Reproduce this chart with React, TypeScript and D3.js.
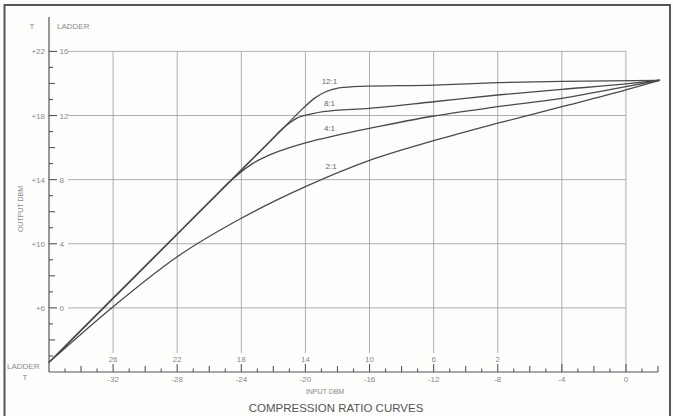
import React from "react";
import * as d3 from "d3";

// input dBm, output dBm
const ratio12: [number, number][] = [[-36, 2.6], [-32, 6.6], [-28, 10.6], [-24, 14.6], [-21, 17.6], [-20.2, 18.4], [-19.4, 19.1], [-18.8, 19.45], [-17.9, 19.72], [-16.6, 19.82], [-12, 19.9], [-8, 20.05], [-4, 20.13], [2.1, 20.2]];
const ratio8: [number, number][] = [[-36, 2.6], [-32, 6.6], [-28, 10.6], [-24, 14.6], [-22.2, 16.4], [-21.4, 17.2], [-20.5, 17.85], [-19.6, 18.1], [-18.9, 18.24], [-16, 18.45], [-12, 18.86], [-8, 19.28], [-4, 19.63], [0, 19.97], [2.1, 20.2]];
const ratio4: [number, number][] = [[-36, 2.6], [-32, 6.6], [-28, 10.6], [-25.6, 13.0], [-24.8, 13.8], [-23.3, 15.0], [-22, 15.64], [-20, 16.3], [-18, 16.78], [-16, 17.2], [-12, 17.97], [-8, 18.55], [-4, 19.07], [0, 19.8], [2.1, 20.2]];
const ratio2: [number, number][] = [[-36, 2.6], [-32, 6.07], [-28, 9.19], [-24, 11.59], [-20, 13.56], [-16, 15.2], [-12, 16.43], [-8, 17.52], [-4, 18.55], [0, 19.6], [2.1, 20.2]];

const seriesNames = ["12:1", "8:1", "4:1", "2:1"];
const seriesData = [ratio12, ratio8, ratio4, ratio2];
const seriesLabelAt: [number, number][] = [[-18.5, 20.17], [-18.5, 18.76], [-18.5, 17.24], [-18.4, 14.85]];

const yMajor = [6, 10, 14, 18, 22];
const yTLabels = ["+6", "+10", "+14", "+18", "+22"];
const yLadderLabels = ["0", "4", "8", "12", "16"];
const xMajor = [-32, -28, -24, -20, -16, -12, -8, -4, 0];
const xTLabels = ["-32", "-28", "-24", "-20", "-16", "-12", "-8", "-4", "0"];
const xLadderLabels = ["26", "22", "18", "14", "10", "6", "2", "", ""];

export default function App() {
  const x = d3.scaleLinear().domain([-36, 2]).range([49, 658]);
  const y = d3.scaleLinear().domain([2, 22]).range([372, 51.4]);
  const line = d3.line<[number, number]>().x(d => x(d[0])).y(d => y(d[1])).curve(d3.curveMonotoneX);
  const font = "'Liberation Sans', Arial, sans-serif";
  const grey = "#8a8a8a";
  const yMinor = d3.range(3, 23);
  const xMinor = d3.range(-35, 3);
  const tickLenY = (v: number) => {
    const m = Math.abs((v - 6) % 4);
    return m === 0 ? 8 : m === 2 ? 6 : 4;
  };
  const tickLenX = (v: number) => {
    const m = Math.abs(v % 4);
    return m === 0 ? 8 : m === 2 ? 6 : 3.5;
  };
  return (
    <div style={{ position: "absolute", left: 0, top: 0 }}>
      <svg width={673} height={416} style={{ display: "block", background: "#fdfdfc" }}>
        <rect x={4.5} y={5} width={665.5} height={420} fill="none" stroke="#555" strokeWidth={2} />
        {/* grid */}
        {yMajor.map(v => (
          <line key={"gy" + v} x1={68} x2={x(0)} y1={y(v)} y2={y(v)} stroke="#9a9a9a" strokeWidth={0.8} />
        ))}
        {xMajor.map((v, i) => (
          <line key={"gx" + v} x1={x(v)} x2={x(v)} y1={y(22)} y2={xLadderLabels[i] ? 353 : 372} stroke="#9a9a9a" strokeWidth={0.8} />
        ))}
        {/* axes */}
        <line x1={x(-36)} x2={x(-36)} y1={17} y2={372} stroke="#555" strokeWidth={1.2} />
        <line x1={x(-36)} x2={x(2)} y1={372} y2={372} stroke="#555" strokeWidth={1.2} />
        {yMinor.map(v => (
          <line key={"ty" + v} x1={x(-36)} x2={x(-36) + tickLenY(v)} y1={y(v)} y2={y(v)} stroke="#555" strokeWidth={1.1} />
        ))}
        {xMinor.map(v => (
          <line key={"tx" + v} x1={x(v)} x2={x(v)} y1={372} y2={372 - tickLenX(v)} stroke="#555" strokeWidth={1.1} />
        ))}
        {/* y labels */}
        {yMajor.map((v, i) => (
          <g key={"ly" + v} fontFamily={font} fontSize={8} fill={grey}>
            <text x={45} y={y(v) + 3} textAnchor="end">{yTLabels[i]}</text>
            <text x={59.5} y={y(v) + 3}>{yLadderLabels[i]}</text>
          </g>
        ))}
        {xMajor.map((v, i) => (
          <g key={"lx" + v} fontFamily={font} fontSize={8} fill={grey} textAnchor="middle">
            <text x={x(v)} y={382}>{xTLabels[i]}</text>
            {xLadderLabels[i] && <text x={x(v)} y={362}>{xLadderLabels[i]}</text>}
          </g>
        ))}
        <g fontFamily={font} fill={grey}>
          <text x={32} y={29} fontSize={8} textAnchor="middle">T</text>
          <text x={57} y={29} fontSize={8}>LADDER</text>
          <text x={7} y={369} fontSize={8}>LADDER</text>
          <text x={25} y={380} fontSize={8} textAnchor="middle">T</text>
          <text x={325} y={394} fontSize={7} textAnchor="middle">INPUT DBM</text>
          <text transform="translate(23,209) rotate(-90)" fontSize={7} textAnchor="middle">OUTPUT DBM</text>
        </g>
        <text x={336} y={412} fontFamily={font} fontSize={11.5} fill="#555" textAnchor="middle">COMPRESSION RATIO CURVES</text>
        {/* curves */}
        {seriesData.map((d, i) => (
          <path key={"s" + i} d={line(d) || ""} fill="none" stroke="#4a4a4a" strokeWidth={1.3} />
        ))}
        {seriesNames.map((n, i) => (
          <text key={"n" + i} x={x(seriesLabelAt[i][0])} y={y(seriesLabelAt[i][1]) + 3} fontFamily={font} fontSize={8} fill="#666" textAnchor="middle">{n}</text>
        ))}
      </svg>
    </div>
  );
}
